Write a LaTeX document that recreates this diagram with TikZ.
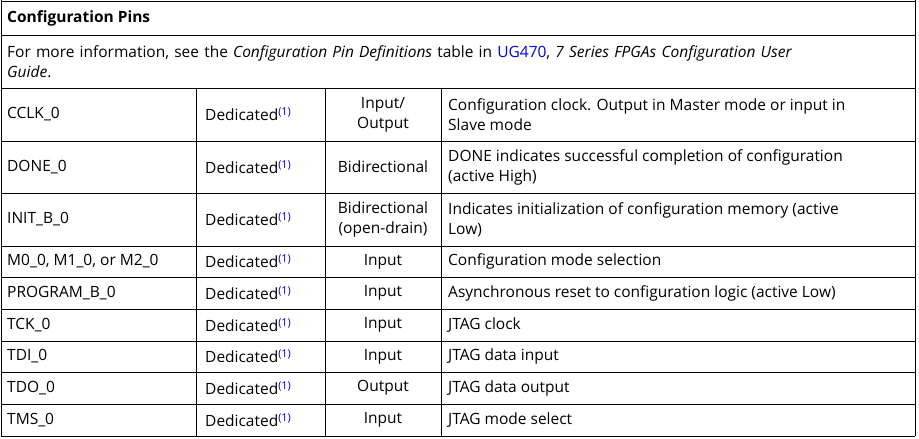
\documentclass[tikz,border=0pt]{standalone}
\usepackage{fontspec}
\setmainfont{Open Sans}
\usetikzlibrary{positioning}
\definecolor{linkblue}{RGB}{0,0,230}
\tikzset{
cell/.style={anchor=west,inner sep=0pt,font=\fontsize{15.5}{20}\selectfont,align=left},
mid/.style={anchor=center,inner sep=0pt,font=\fontsize{15.5}{20}\selectfont,align=center},
rule/.style={line width=0.8pt}
}
\newcommand{\ded}{Dedicated\textsuperscript{\textcolor{linkblue}{(1)}}}
\begin{document}
\begin{tikzpicture}[x=1pt,y=-1pt]
\useasboundingbox (0,0) rectangle (919,439);
% frame and rules
\draw[rule] (1,0) -- (1,436) (915,0) -- (915,436);
\foreach \y in {1,35,88,141,193,246,277,309,341,372,404,436}
  \draw[rule] (1,\y) -- (915,\y);
\foreach \x in {196,325,441}
  \draw[rule] (\x,88) -- (\x,436);
\node[cell,font=\fontsize{15.5}{20}\selectfont\bfseries] (title) at (7,18) {Configuration Pins};
\node[cell,text width=900pt] (info) at (7,62) {For more information, see the \emph{Configuration Pin Definitions} table in \textcolor{linkblue}{UG470}, \emph{7 Series FPGAs Configuration User\\Guide}.};
% rows
\foreach \y/\pin/\dir/\desc [count=\i] in {
  114.5/CCLK\_0/{Input/\\Output}/{Configuration clock. Output in Master mode or input in\\Slave mode},
  167/DONE\_0/Bidirectional/{DONE indicates successful completion of configuration\\(active High)},
  219.5/INIT\_B\_0/{Bidirectional\\(open-drain)}/{Indicates initialization of configuration memory (active\\Low)},
  261.5/{M0\_0, M1\_0, or M2\_0}/Input/Configuration mode selection,
  293/PROGRAM\_B\_0/Input/Asynchronous reset to configuration logic (active Low),
  325/TCK\_0/Input/JTAG clock,
  356.5/TDI\_0/Input/JTAG data input,
  388/TDO\_0/Output/JTAG data output,
  420/TMS\_0/Input/JTAG mode select}{
  \node[cell] (pin\i) at (7,\y) {\pin};
  \node[cell] (type\i) at (205,\y) {\ded};
  \node[mid] (dir\i) at (383,\y) {\dir};
  \node[cell] (desc\i) at (448,\y) {\desc};
}
\end{tikzpicture}
\end{document}
